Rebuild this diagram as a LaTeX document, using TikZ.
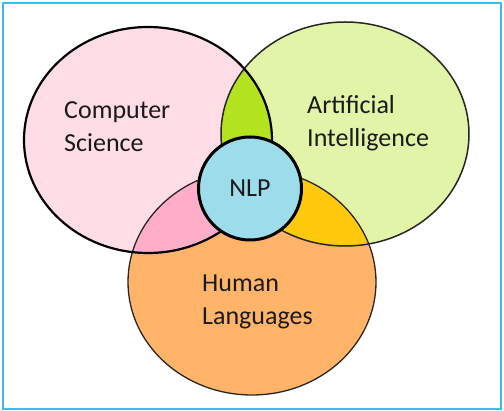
\documentclass[tikz,border=0pt]{standalone}
\usepackage{fontspec}
\setmainfont{Carlito}
\definecolor{framecol}{HTML}{3DBDEB}
\definecolor{csfill}{HTML}{FFDDE6}
\definecolor{aifill}{HTML}{E2F4A8}
\definecolor{hlfill}{HTML}{FFB469}
\definecolor{csai}{HTML}{B3E21E}
\definecolor{cshl}{HTML}{FFADC8}
\definecolor{aihl}{HTML}{FFC90E}
\definecolor{nlpfill}{HTML}{9CDCEB}
\definecolor{txt}{HTML}{1A1A1A}
\tikzset{
  frame/.style={draw=framecol, line width=2.6pt},
  lbl/.style={font=\fontsize{26}{33}\selectfont, text=txt, inner sep=0pt, align=left},
  nlpnode/.style={circle, draw=black, line width=3pt, fill=nlpfill, minimum size=103pt, inner sep=0pt, font=\fontsize{26}{33}\selectfont, text=txt},
}
\def\csshape{(148,140) ellipse [x radius=124, y radius=113]}
\def\aishape{(345,134) ellipse [x radius=124, y radius=112]}
\def\hlshape{(252,282) ellipse [x radius=124, y radius=113]}
\begin{document}
\begin{tikzpicture}[x=1pt,y=-1pt]
\useasboundingbox (0,0) rectangle (504,411);
\fill[white] (0,0) rectangle (504,411);
\draw[frame] (3,3) rectangle (501,409);
% fills
\fill[csfill] \csshape;
\fill[aifill] \aishape;
\fill[hlfill] \hlshape;
\begin{scope}
  \clip \csshape;
  \fill[csai] \aishape;
  \fill[cshl] \hlshape;
\end{scope}
\begin{scope}
  \clip \aishape;
  \fill[aihl] \hlshape;
\end{scope}
% outlines
\draw[black!85, line width=1.3pt] \hlshape;
\draw[black!85, line width=1.5pt] \aishape;
\draw[black, line width=2.2pt] \csshape;
% labels (base = baseline of last line)
\node[lbl, anchor=base west] (cs) at (64,152) {Computer\\Science};
\node[lbl, anchor=base west] (ai) at (307,147) {Artificial\\Intelligence};
\node[lbl, anchor=base west] (hl) at (202,325) {Human\\Languages};
\node[nlpnode] (nlp) at (250,188.5) {NLP};
\end{tikzpicture}
\end{document}
